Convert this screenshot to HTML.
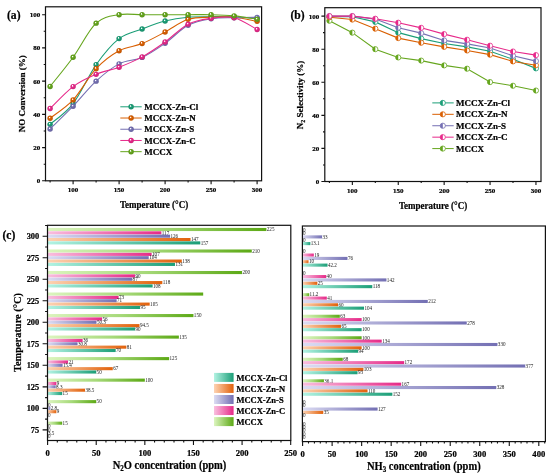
<!DOCTYPE html>
<html><head><meta charset="utf-8"><title>Figure</title>
<style>html,body{margin:0;padding:0;background:#fff;}body{width:550px;height:475px;overflow:hidden;font-family:"Liberation Serif",serif;}svg{display:block;will-change:transform;}</style>
</head><body>
<svg width="550" height="475" viewBox="0 0 550 475"><defs><radialGradient id="sph0" cx="0.5" cy="0.5" r="0.5" fx="0.36" fy="0.33"><stop offset="0" stop-color="#fff"/><stop offset="0.12" stop-color="#fff" stop-opacity="0.9"/><stop offset="0.4" stop-color="#1b9e77"/><stop offset="1" stop-color="#178b68"/></radialGradient><radialGradient id="sph1" cx="0.5" cy="0.5" r="0.5" fx="0.36" fy="0.33"><stop offset="0" stop-color="#fff"/><stop offset="0.12" stop-color="#fff" stop-opacity="0.9"/><stop offset="0.4" stop-color="#d95f02"/><stop offset="1" stop-color="#be5301"/></radialGradient><radialGradient id="sph2" cx="0.5" cy="0.5" r="0.5" fx="0.36" fy="0.33"><stop offset="0" stop-color="#fff"/><stop offset="0.12" stop-color="#fff" stop-opacity="0.9"/><stop offset="0.4" stop-color="#7570b3"/><stop offset="1" stop-color="#66629d"/></radialGradient><radialGradient id="sph3" cx="0.5" cy="0.5" r="0.5" fx="0.36" fy="0.33"><stop offset="0" stop-color="#fff"/><stop offset="0.12" stop-color="#fff" stop-opacity="0.9"/><stop offset="0.4" stop-color="#e7298a"/><stop offset="1" stop-color="#cb2479"/></radialGradient><radialGradient id="sph4" cx="0.5" cy="0.5" r="0.5" fx="0.36" fy="0.33"><stop offset="0" stop-color="#fff"/><stop offset="0.12" stop-color="#fff" stop-opacity="0.9"/><stop offset="0.4" stop-color="#66a61e"/><stop offset="1" stop-color="#59921a"/></radialGradient><linearGradient id="grg" x1="0" x2="1" y1="0" y2="0"><stop offset="0" stop-color="#dcf5bf"/><stop offset="0.5" stop-color="#a6d979"/><stop offset="1" stop-color="#5ca915"/></linearGradient><linearGradient id="lgg" x1="0" x2="1" y1="0" y2="0"><stop offset="0" stop-color="#dcf5bf"/><stop offset="1" stop-color="#5ca915"/></linearGradient><linearGradient id="grp" x1="0" x2="1" y1="0" y2="0"><stop offset="0" stop-color="#f9bfdf"/><stop offset="1" stop-color="#e62a88"/></linearGradient><linearGradient id="lgp" x1="0" x2="1" y1="0" y2="0"><stop offset="0" stop-color="#f9bfdf"/><stop offset="1" stop-color="#e62a88"/></linearGradient><linearGradient id="grs" x1="0" x2="1" y1="0" y2="0"><stop offset="0" stop-color="#dcdcf3"/><stop offset="1" stop-color="#736fb3"/></linearGradient><linearGradient id="lgs" x1="0" x2="1" y1="0" y2="0"><stop offset="0" stop-color="#dcdcf3"/><stop offset="1" stop-color="#736fb3"/></linearGradient><linearGradient id="gro" x1="0" x2="1" y1="0" y2="0"><stop offset="0" stop-color="#fdd3b3"/><stop offset="1" stop-color="#e2620c"/></linearGradient><linearGradient id="lgo" x1="0" x2="1" y1="0" y2="0"><stop offset="0" stop-color="#fdd3b3"/><stop offset="1" stop-color="#e2620c"/></linearGradient><linearGradient id="grt" x1="0" x2="1" y1="0" y2="0"><stop offset="0" stop-color="#b3f3e3"/><stop offset="1" stop-color="#1b9e77"/></linearGradient><linearGradient id="lgt" x1="0" x2="1" y1="0" y2="0"><stop offset="0" stop-color="#b3f3e3"/><stop offset="1" stop-color="#1b9e77"/></linearGradient></defs><path d="M50.1,124.33 C53.93,120.87 65.43,113.5 73.1,103.56 C80.77,93.63 88.43,75.52 96.1,64.7 C103.77,53.87 111.43,44.57 119.1,38.62 C126.77,32.67 134.43,31.92 142.1,28.98 C149.77,26.05 157.43,22.98 165.1,21.01 C172.77,19.05 180.43,17.91 188.1,17.19 C195.77,16.47 203.43,16.78 211.1,16.69 C218.77,16.61 226.43,16.42 234.1,16.69 C241.77,16.97 253.27,18.08 257.1,18.35" fill="none" stroke="#1b9e77" stroke-width="1.1"/>
<circle cx="50.1" cy="124.33" r="2.7" fill="url(#sph0)"/>
<circle cx="73.1" cy="103.56" r="2.7" fill="url(#sph0)"/>
<circle cx="96.1" cy="64.7" r="2.7" fill="url(#sph0)"/>
<circle cx="119.1" cy="38.62" r="2.7" fill="url(#sph0)"/>
<circle cx="142.1" cy="28.98" r="2.7" fill="url(#sph0)"/>
<circle cx="165.1" cy="21.01" r="2.7" fill="url(#sph0)"/>
<circle cx="188.1" cy="17.19" r="2.7" fill="url(#sph0)"/>
<circle cx="211.1" cy="16.69" r="2.7" fill="url(#sph0)"/>
<circle cx="234.1" cy="16.69" r="2.7" fill="url(#sph0)"/>
<circle cx="257.1" cy="18.35" r="2.7" fill="url(#sph0)"/>
<path d="M50.1,118.18 C53.93,115.14 65.43,108.16 73.1,99.91 C80.77,91.66 88.43,76.88 96.1,68.68 C103.77,60.49 111.43,54.92 119.1,50.74 C126.77,46.56 134.43,46.73 142.1,43.6 C149.77,40.47 157.43,36.02 165.1,31.97 C172.77,27.93 180.43,21.81 188.1,19.35 C195.77,16.89 203.43,17.55 211.1,17.19 C218.77,16.83 226.43,16.5 234.1,17.19 C241.77,17.88 253.27,20.65 257.1,21.34" fill="none" stroke="#d95f02" stroke-width="1.1"/>
<circle cx="50.1" cy="118.18" r="2.7" fill="url(#sph1)"/>
<circle cx="73.1" cy="99.91" r="2.7" fill="url(#sph1)"/>
<circle cx="96.1" cy="68.68" r="2.7" fill="url(#sph1)"/>
<circle cx="119.1" cy="50.74" r="2.7" fill="url(#sph1)"/>
<circle cx="142.1" cy="43.6" r="2.7" fill="url(#sph1)"/>
<circle cx="165.1" cy="31.97" r="2.7" fill="url(#sph1)"/>
<circle cx="188.1" cy="19.35" r="2.7" fill="url(#sph1)"/>
<circle cx="211.1" cy="17.19" r="2.7" fill="url(#sph1)"/>
<circle cx="234.1" cy="17.19" r="2.7" fill="url(#sph1)"/>
<circle cx="257.1" cy="21.34" r="2.7" fill="url(#sph1)"/>
<path d="M50.1,128.98 C53.93,125.18 65.43,114.19 73.1,106.22 C80.77,98.25 88.43,88.2 96.1,81.14 C103.77,74.08 111.43,67.82 119.1,63.87 C126.77,59.91 134.43,60.82 142.1,57.39 C149.77,53.95 157.43,48.61 165.1,43.27 C172.77,37.93 180.43,29.4 188.1,25.33 C195.77,21.26 203.43,20.13 211.1,18.85 C218.77,17.58 226.43,17.94 234.1,17.69 C241.77,17.44 253.27,17.41 257.1,17.36" fill="none" stroke="#7570b3" stroke-width="1.1"/>
<circle cx="50.1" cy="128.98" r="2.7" fill="url(#sph2)"/>
<circle cx="73.1" cy="106.22" r="2.7" fill="url(#sph2)"/>
<circle cx="96.1" cy="81.14" r="2.7" fill="url(#sph2)"/>
<circle cx="119.1" cy="63.87" r="2.7" fill="url(#sph2)"/>
<circle cx="142.1" cy="57.39" r="2.7" fill="url(#sph2)"/>
<circle cx="165.1" cy="43.27" r="2.7" fill="url(#sph2)"/>
<circle cx="188.1" cy="25.33" r="2.7" fill="url(#sph2)"/>
<circle cx="211.1" cy="18.85" r="2.7" fill="url(#sph2)"/>
<circle cx="234.1" cy="17.69" r="2.7" fill="url(#sph2)"/>
<circle cx="257.1" cy="17.36" r="2.7" fill="url(#sph2)"/>
<path d="M50.1,108.55 C53.93,104.89 65.43,92.32 73.1,86.62 C80.77,80.92 88.43,77.57 96.1,74.33 C103.77,71.09 111.43,70.09 119.1,67.19 C126.77,64.28 134.43,61.1 142.1,56.89 C149.77,52.68 157.43,47.39 165.1,41.94 C172.77,36.49 180.43,28.1 188.1,24.17 C195.77,20.24 203.43,19.43 211.1,18.35 C218.77,17.27 226.43,15.84 234.1,17.69 C241.77,19.54 253.27,27.52 257.1,29.48" fill="none" stroke="#e7298a" stroke-width="1.1"/>
<circle cx="50.1" cy="108.55" r="2.7" fill="url(#sph3)"/>
<circle cx="73.1" cy="86.62" r="2.7" fill="url(#sph3)"/>
<circle cx="96.1" cy="74.33" r="2.7" fill="url(#sph3)"/>
<circle cx="119.1" cy="67.19" r="2.7" fill="url(#sph3)"/>
<circle cx="142.1" cy="56.89" r="2.7" fill="url(#sph3)"/>
<circle cx="165.1" cy="41.94" r="2.7" fill="url(#sph3)"/>
<circle cx="188.1" cy="24.17" r="2.7" fill="url(#sph3)"/>
<circle cx="211.1" cy="18.35" r="2.7" fill="url(#sph3)"/>
<circle cx="234.1" cy="17.69" r="2.7" fill="url(#sph3)"/>
<circle cx="257.1" cy="29.48" r="2.7" fill="url(#sph3)"/>
<path d="M50.1,86.46 C53.93,81.58 65.43,67.77 73.1,57.22 C80.77,46.67 88.43,30.26 96.1,23.17 C103.77,16.08 111.43,16.11 119.1,14.7 C126.77,13.29 134.43,14.7 142.1,14.7 C149.77,14.7 157.43,14.7 165.1,14.7 C172.77,14.7 180.43,14.7 188.1,14.7 C195.77,14.7 203.43,14.51 211.1,14.7 C218.77,14.89 226.43,15.12 234.1,15.86 C241.77,16.61 253.27,18.63 257.1,19.18" fill="none" stroke="#66a61e" stroke-width="1.1"/>
<circle cx="50.1" cy="86.46" r="2.7" fill="url(#sph4)"/>
<circle cx="73.1" cy="57.22" r="2.7" fill="url(#sph4)"/>
<circle cx="96.1" cy="23.17" r="2.7" fill="url(#sph4)"/>
<circle cx="119.1" cy="14.7" r="2.7" fill="url(#sph4)"/>
<circle cx="142.1" cy="14.7" r="2.7" fill="url(#sph4)"/>
<circle cx="165.1" cy="14.7" r="2.7" fill="url(#sph4)"/>
<circle cx="188.1" cy="14.7" r="2.7" fill="url(#sph4)"/>
<circle cx="211.1" cy="14.7" r="2.7" fill="url(#sph4)"/>
<circle cx="234.1" cy="15.86" r="2.7" fill="url(#sph4)"/>
<circle cx="257.1" cy="19.18" r="2.7" fill="url(#sph4)"/>
<rect x="45.5" y="6.8" width="216.1" height="174" fill="none" stroke="#111" stroke-width="1.2"/>
<path d="M45.5,180.8H42.1M45.5,164.19H43.7M45.5,147.58H42.1M45.5,130.97H43.7M45.5,114.36H42.1M45.5,97.75H43.7M45.5,81.14H42.1M45.5,64.53H43.7M45.5,47.92H42.1M45.5,31.31H43.7M45.5,14.7H42.1M50.1,180.8V182.4M73.1,180.8V184.2M96.1,180.8V182.4M119.1,180.8V184.2M142.1,180.8V182.4M165.1,180.8V184.2M188.1,180.8V182.4M211.1,180.8V184.2M234.1,180.8V182.4M257.1,180.8V184.2" stroke="#111" stroke-width="1.1" fill="none"/>
<text x="40.3" y="183.3" font-size="7" text-anchor="end" font-family="Liberation Serif" font-weight="bold" stroke="#000" stroke-width="0.22" paint-order="stroke">0</text>
<text x="40.3" y="150.08" font-size="7" text-anchor="end" font-family="Liberation Serif" font-weight="bold" stroke="#000" stroke-width="0.22" paint-order="stroke">20</text>
<text x="40.3" y="116.86" font-size="7" text-anchor="end" font-family="Liberation Serif" font-weight="bold" stroke="#000" stroke-width="0.22" paint-order="stroke">40</text>
<text x="40.3" y="83.64" font-size="7" text-anchor="end" font-family="Liberation Serif" font-weight="bold" stroke="#000" stroke-width="0.22" paint-order="stroke">60</text>
<text x="40.3" y="50.42" font-size="7" text-anchor="end" font-family="Liberation Serif" font-weight="bold" stroke="#000" stroke-width="0.22" paint-order="stroke">80</text>
<text x="40.3" y="17.2" font-size="7" text-anchor="end" font-family="Liberation Serif" font-weight="bold" stroke="#000" stroke-width="0.22" paint-order="stroke">100</text>
<text x="73.1" y="192.3" font-size="7" text-anchor="middle" font-family="Liberation Serif" font-weight="bold" stroke="#000" stroke-width="0.22" paint-order="stroke">100</text>
<text x="119.1" y="192.3" font-size="7" text-anchor="middle" font-family="Liberation Serif" font-weight="bold" stroke="#000" stroke-width="0.22" paint-order="stroke">150</text>
<text x="165.1" y="192.3" font-size="7" text-anchor="middle" font-family="Liberation Serif" font-weight="bold" stroke="#000" stroke-width="0.22" paint-order="stroke">200</text>
<text x="211.1" y="192.3" font-size="7" text-anchor="middle" font-family="Liberation Serif" font-weight="bold" stroke="#000" stroke-width="0.22" paint-order="stroke">250</text>
<text x="257.1" y="192.3" font-size="7" text-anchor="middle" font-family="Liberation Serif" font-weight="bold" stroke="#000" stroke-width="0.22" paint-order="stroke">300</text>
<text transform="translate(154,208.4) scale(0.9,1)" font-size="10" text-anchor="middle" font-family="Liberation Serif" font-weight="bold" stroke="#000" stroke-width="0.22" paint-order="stroke">Temperature (°C)</text>
<text transform="translate(25.3,93.7) rotate(-90)" font-size="9" text-anchor="middle" font-family="Liberation Serif" font-weight="bold" stroke="#000" stroke-width="0.22" paint-order="stroke">NO Conversion (%)</text>
<text x="7.0" y="18.6" font-size="11.6" font-family="Liberation Serif" font-weight="bold" stroke="#000" stroke-width="0.22" paint-order="stroke">(a)</text>
<path d="M120.3,106.8H141.7" stroke="#1b9e77" stroke-width="1"/>
<circle cx="131.1" cy="106.8" r="2.7" fill="url(#sph0)"/>
<text x="144.2" y="109.9" font-size="9" font-family="Liberation Serif" font-weight="bold" stroke="#000" stroke-width="0.22" paint-order="stroke">MCCX-Zn-Cl</text>
<path d="M120.3,118.02H141.7" stroke="#d95f02" stroke-width="1"/>
<circle cx="131.1" cy="118.02" r="2.7" fill="url(#sph1)"/>
<text x="144.2" y="121.12" font-size="9" font-family="Liberation Serif" font-weight="bold" stroke="#000" stroke-width="0.22" paint-order="stroke">MCCX-Zn-N</text>
<path d="M120.3,129.24H141.7" stroke="#7570b3" stroke-width="1"/>
<circle cx="131.1" cy="129.24" r="2.7" fill="url(#sph2)"/>
<text x="144.2" y="132.34" font-size="9" font-family="Liberation Serif" font-weight="bold" stroke="#000" stroke-width="0.22" paint-order="stroke">MCCX-Zn-S</text>
<path d="M120.3,140.46H141.7" stroke="#e7298a" stroke-width="1"/>
<circle cx="131.1" cy="140.46" r="2.7" fill="url(#sph3)"/>
<text x="144.2" y="143.56" font-size="9" font-family="Liberation Serif" font-weight="bold" stroke="#000" stroke-width="0.22" paint-order="stroke">MCCX-Zn-C</text>
<path d="M120.3,151.68H141.7" stroke="#66a61e" stroke-width="1"/>
<circle cx="131.1" cy="151.68" r="2.7" fill="url(#sph4)"/>
<text x="144.2" y="154.78" font-size="9" font-family="Liberation Serif" font-weight="bold" stroke="#000" stroke-width="0.22" paint-order="stroke">MCCX</text>
<polyline points="329.4,20.73 352.35,32.64 375.3,49.18 398.25,57.45 421.2,60.59 444.15,65.39 467.1,68.7 490.05,82.09 513,85.73 535.95,90.53" fill="none" stroke="#66a61e" stroke-width="1.1"/>
<polyline points="329.4,16.76 352.35,16.76 375.3,21.89 398.25,32.64 421.2,38.59 444.15,43.56 467.1,46.86 490.05,51.16 513,59.27 535.95,68.37" fill="none" stroke="#1b9e77" stroke-width="1.1"/>
<polyline points="329.4,17.26 352.35,19.57 375.3,28.67 398.25,38.1 421.2,42.73 444.15,46.86 467.1,50.5 490.05,54.64 513,61.42 535.95,65.22" fill="none" stroke="#d95f02" stroke-width="1.1"/>
<polyline points="329.4,16.1 352.35,16.1 375.3,19.08 398.25,27.68 421.2,33.14 444.15,40.41 467.1,43.89 490.05,48.02 513,55.8 535.95,61.09" fill="none" stroke="#7570b3" stroke-width="1.1"/>
<polyline points="329.4,16.1 352.35,16.1 375.3,18.75 398.25,22.72 421.2,27.84 444.15,34.13 467.1,39.75 490.05,45.71 513,51.5 535.95,55.13" fill="none" stroke="#e7298a" stroke-width="1.1"/>
<circle cx="329.4" cy="20.73" r="2.6" fill="#fff" stroke="#66a61e" stroke-width="0.8"/><path d="M329.4,18.13A2.6,2.6 0 0 0 329.4,23.33Z" fill="#66a61e"/>
<circle cx="352.35" cy="32.64" r="2.6" fill="#fff" stroke="#66a61e" stroke-width="0.8"/><path d="M352.35,30.04A2.6,2.6 0 0 0 352.35,35.24Z" fill="#66a61e"/>
<circle cx="375.3" cy="49.18" r="2.6" fill="#fff" stroke="#66a61e" stroke-width="0.8"/><path d="M375.3,46.58A2.6,2.6 0 0 0 375.3,51.78Z" fill="#66a61e"/>
<circle cx="398.25" cy="57.45" r="2.6" fill="#fff" stroke="#66a61e" stroke-width="0.8"/><path d="M398.25,54.85A2.6,2.6 0 0 0 398.25,60.05Z" fill="#66a61e"/>
<circle cx="421.2" cy="60.59" r="2.6" fill="#fff" stroke="#66a61e" stroke-width="0.8"/><path d="M421.2,57.99A2.6,2.6 0 0 0 421.2,63.19Z" fill="#66a61e"/>
<circle cx="444.15" cy="65.39" r="2.6" fill="#fff" stroke="#66a61e" stroke-width="0.8"/><path d="M444.15,62.79A2.6,2.6 0 0 0 444.15,67.99Z" fill="#66a61e"/>
<circle cx="467.1" cy="68.7" r="2.6" fill="#fff" stroke="#66a61e" stroke-width="0.8"/><path d="M467.1,66.1A2.6,2.6 0 0 0 467.1,71.3Z" fill="#66a61e"/>
<circle cx="490.05" cy="82.09" r="2.6" fill="#fff" stroke="#66a61e" stroke-width="0.8"/><path d="M490.05,79.49A2.6,2.6 0 0 0 490.05,84.69Z" fill="#66a61e"/>
<circle cx="513" cy="85.73" r="2.6" fill="#fff" stroke="#66a61e" stroke-width="0.8"/><path d="M513,83.13A2.6,2.6 0 0 0 513,88.33Z" fill="#66a61e"/>
<circle cx="535.95" cy="90.53" r="2.6" fill="#fff" stroke="#66a61e" stroke-width="0.8"/><path d="M535.95,87.93A2.6,2.6 0 0 0 535.95,93.13Z" fill="#66a61e"/>
<circle cx="329.4" cy="16.76" r="2.6" fill="#fff" stroke="#1b9e77" stroke-width="0.8"/><path d="M329.4,14.16A2.6,2.6 0 0 0 329.4,19.36Z" fill="#1b9e77"/>
<circle cx="352.35" cy="16.76" r="2.6" fill="#fff" stroke="#1b9e77" stroke-width="0.8"/><path d="M352.35,14.16A2.6,2.6 0 0 0 352.35,19.36Z" fill="#1b9e77"/>
<circle cx="375.3" cy="21.89" r="2.6" fill="#fff" stroke="#1b9e77" stroke-width="0.8"/><path d="M375.3,19.29A2.6,2.6 0 0 0 375.3,24.49Z" fill="#1b9e77"/>
<circle cx="398.25" cy="32.64" r="2.6" fill="#fff" stroke="#1b9e77" stroke-width="0.8"/><path d="M398.25,30.04A2.6,2.6 0 0 0 398.25,35.24Z" fill="#1b9e77"/>
<circle cx="421.2" cy="38.59" r="2.6" fill="#fff" stroke="#1b9e77" stroke-width="0.8"/><path d="M421.2,35.99A2.6,2.6 0 0 0 421.2,41.19Z" fill="#1b9e77"/>
<circle cx="444.15" cy="43.56" r="2.6" fill="#fff" stroke="#1b9e77" stroke-width="0.8"/><path d="M444.15,40.96A2.6,2.6 0 0 0 444.15,46.16Z" fill="#1b9e77"/>
<circle cx="467.1" cy="46.86" r="2.6" fill="#fff" stroke="#1b9e77" stroke-width="0.8"/><path d="M467.1,44.26A2.6,2.6 0 0 0 467.1,49.46Z" fill="#1b9e77"/>
<circle cx="490.05" cy="51.16" r="2.6" fill="#fff" stroke="#1b9e77" stroke-width="0.8"/><path d="M490.05,48.56A2.6,2.6 0 0 0 490.05,53.76Z" fill="#1b9e77"/>
<circle cx="513" cy="59.27" r="2.6" fill="#fff" stroke="#1b9e77" stroke-width="0.8"/><path d="M513,56.67A2.6,2.6 0 0 0 513,61.87Z" fill="#1b9e77"/>
<circle cx="535.95" cy="68.37" r="2.6" fill="#fff" stroke="#1b9e77" stroke-width="0.8"/><path d="M535.95,65.77A2.6,2.6 0 0 0 535.95,70.97Z" fill="#1b9e77"/>
<circle cx="329.4" cy="17.26" r="2.6" fill="#fff" stroke="#d95f02" stroke-width="0.8"/><path d="M329.4,14.66A2.6,2.6 0 0 0 329.4,19.86Z" fill="#d95f02"/>
<circle cx="352.35" cy="19.57" r="2.6" fill="#fff" stroke="#d95f02" stroke-width="0.8"/><path d="M352.35,16.97A2.6,2.6 0 0 0 352.35,22.17Z" fill="#d95f02"/>
<circle cx="375.3" cy="28.67" r="2.6" fill="#fff" stroke="#d95f02" stroke-width="0.8"/><path d="M375.3,26.07A2.6,2.6 0 0 0 375.3,31.27Z" fill="#d95f02"/>
<circle cx="398.25" cy="38.1" r="2.6" fill="#fff" stroke="#d95f02" stroke-width="0.8"/><path d="M398.25,35.5A2.6,2.6 0 0 0 398.25,40.7Z" fill="#d95f02"/>
<circle cx="421.2" cy="42.73" r="2.6" fill="#fff" stroke="#d95f02" stroke-width="0.8"/><path d="M421.2,40.13A2.6,2.6 0 0 0 421.2,45.33Z" fill="#d95f02"/>
<circle cx="444.15" cy="46.86" r="2.6" fill="#fff" stroke="#d95f02" stroke-width="0.8"/><path d="M444.15,44.26A2.6,2.6 0 0 0 444.15,49.46Z" fill="#d95f02"/>
<circle cx="467.1" cy="50.5" r="2.6" fill="#fff" stroke="#d95f02" stroke-width="0.8"/><path d="M467.1,47.9A2.6,2.6 0 0 0 467.1,53.1Z" fill="#d95f02"/>
<circle cx="490.05" cy="54.64" r="2.6" fill="#fff" stroke="#d95f02" stroke-width="0.8"/><path d="M490.05,52.04A2.6,2.6 0 0 0 490.05,57.24Z" fill="#d95f02"/>
<circle cx="513" cy="61.42" r="2.6" fill="#fff" stroke="#d95f02" stroke-width="0.8"/><path d="M513,58.82A2.6,2.6 0 0 0 513,64.02Z" fill="#d95f02"/>
<circle cx="535.95" cy="65.22" r="2.6" fill="#fff" stroke="#d95f02" stroke-width="0.8"/><path d="M535.95,62.62A2.6,2.6 0 0 0 535.95,67.82Z" fill="#d95f02"/>
<circle cx="329.4" cy="16.1" r="2.6" fill="#fff" stroke="#7570b3" stroke-width="0.8"/><path d="M329.4,13.5A2.6,2.6 0 0 0 329.4,18.7Z" fill="#7570b3"/>
<circle cx="352.35" cy="16.1" r="2.6" fill="#fff" stroke="#7570b3" stroke-width="0.8"/><path d="M352.35,13.5A2.6,2.6 0 0 0 352.35,18.7Z" fill="#7570b3"/>
<circle cx="375.3" cy="19.08" r="2.6" fill="#fff" stroke="#7570b3" stroke-width="0.8"/><path d="M375.3,16.48A2.6,2.6 0 0 0 375.3,21.68Z" fill="#7570b3"/>
<circle cx="398.25" cy="27.68" r="2.6" fill="#fff" stroke="#7570b3" stroke-width="0.8"/><path d="M398.25,25.08A2.6,2.6 0 0 0 398.25,30.28Z" fill="#7570b3"/>
<circle cx="421.2" cy="33.14" r="2.6" fill="#fff" stroke="#7570b3" stroke-width="0.8"/><path d="M421.2,30.54A2.6,2.6 0 0 0 421.2,35.74Z" fill="#7570b3"/>
<circle cx="444.15" cy="40.41" r="2.6" fill="#fff" stroke="#7570b3" stroke-width="0.8"/><path d="M444.15,37.81A2.6,2.6 0 0 0 444.15,43.01Z" fill="#7570b3"/>
<circle cx="467.1" cy="43.89" r="2.6" fill="#fff" stroke="#7570b3" stroke-width="0.8"/><path d="M467.1,41.29A2.6,2.6 0 0 0 467.1,46.49Z" fill="#7570b3"/>
<circle cx="490.05" cy="48.02" r="2.6" fill="#fff" stroke="#7570b3" stroke-width="0.8"/><path d="M490.05,45.42A2.6,2.6 0 0 0 490.05,50.62Z" fill="#7570b3"/>
<circle cx="513" cy="55.8" r="2.6" fill="#fff" stroke="#7570b3" stroke-width="0.8"/><path d="M513,53.2A2.6,2.6 0 0 0 513,58.4Z" fill="#7570b3"/>
<circle cx="535.95" cy="61.09" r="2.6" fill="#fff" stroke="#7570b3" stroke-width="0.8"/><path d="M535.95,58.49A2.6,2.6 0 0 0 535.95,63.69Z" fill="#7570b3"/>
<circle cx="329.4" cy="16.1" r="2.6" fill="#fff" stroke="#e7298a" stroke-width="0.8"/><path d="M329.4,13.5A2.6,2.6 0 0 0 329.4,18.7Z" fill="#e7298a"/>
<circle cx="352.35" cy="16.1" r="2.6" fill="#fff" stroke="#e7298a" stroke-width="0.8"/><path d="M352.35,13.5A2.6,2.6 0 0 0 352.35,18.7Z" fill="#e7298a"/>
<circle cx="375.3" cy="18.75" r="2.6" fill="#fff" stroke="#e7298a" stroke-width="0.8"/><path d="M375.3,16.15A2.6,2.6 0 0 0 375.3,21.35Z" fill="#e7298a"/>
<circle cx="398.25" cy="22.72" r="2.6" fill="#fff" stroke="#e7298a" stroke-width="0.8"/><path d="M398.25,20.12A2.6,2.6 0 0 0 398.25,25.32Z" fill="#e7298a"/>
<circle cx="421.2" cy="27.84" r="2.6" fill="#fff" stroke="#e7298a" stroke-width="0.8"/><path d="M421.2,25.24A2.6,2.6 0 0 0 421.2,30.44Z" fill="#e7298a"/>
<circle cx="444.15" cy="34.13" r="2.6" fill="#fff" stroke="#e7298a" stroke-width="0.8"/><path d="M444.15,31.53A2.6,2.6 0 0 0 444.15,36.73Z" fill="#e7298a"/>
<circle cx="467.1" cy="39.75" r="2.6" fill="#fff" stroke="#e7298a" stroke-width="0.8"/><path d="M467.1,37.15A2.6,2.6 0 0 0 467.1,42.35Z" fill="#e7298a"/>
<circle cx="490.05" cy="45.71" r="2.6" fill="#fff" stroke="#e7298a" stroke-width="0.8"/><path d="M490.05,43.11A2.6,2.6 0 0 0 490.05,48.31Z" fill="#e7298a"/>
<circle cx="513" cy="51.5" r="2.6" fill="#fff" stroke="#e7298a" stroke-width="0.8"/><path d="M513,48.9A2.6,2.6 0 0 0 513,54.1Z" fill="#e7298a"/>
<circle cx="535.95" cy="55.13" r="2.6" fill="#fff" stroke="#e7298a" stroke-width="0.8"/><path d="M535.95,52.53A2.6,2.6 0 0 0 535.95,57.73Z" fill="#e7298a"/>
<rect x="324.8" y="7.7" width="216.2" height="173.8" fill="none" stroke="#111" stroke-width="1.2"/>
<path d="M324.8,181.5H321.4M324.8,164.96H323M324.8,148.42H321.4M324.8,131.88H323M324.8,115.34H321.4M324.8,98.8H323M324.8,82.26H321.4M324.8,65.72H323M324.8,49.18H321.4M324.8,32.64H323M324.8,16.1H321.4M329.4,181.5V183.1M352.35,181.5V185M375.3,181.5V183.1M398.25,181.5V185M421.2,181.5V183.1M444.15,181.5V185M467.1,181.5V183.1M490.05,181.5V185M513,181.5V183.1M535.95,181.5V185" stroke="#111" stroke-width="1.1" fill="none"/>
<text x="319.3" y="184" font-size="7" text-anchor="end" font-family="Liberation Serif" font-weight="bold" stroke="#000" stroke-width="0.22" paint-order="stroke">0</text>
<text x="319.3" y="150.92" font-size="7" text-anchor="end" font-family="Liberation Serif" font-weight="bold" stroke="#000" stroke-width="0.22" paint-order="stroke">20</text>
<text x="319.3" y="117.84" font-size="7" text-anchor="end" font-family="Liberation Serif" font-weight="bold" stroke="#000" stroke-width="0.22" paint-order="stroke">40</text>
<text x="319.3" y="84.76" font-size="7" text-anchor="end" font-family="Liberation Serif" font-weight="bold" stroke="#000" stroke-width="0.22" paint-order="stroke">60</text>
<text x="319.3" y="51.68" font-size="7" text-anchor="end" font-family="Liberation Serif" font-weight="bold" stroke="#000" stroke-width="0.22" paint-order="stroke">80</text>
<text x="319.3" y="18.6" font-size="7" text-anchor="end" font-family="Liberation Serif" font-weight="bold" stroke="#000" stroke-width="0.22" paint-order="stroke">100</text>
<text x="352.35" y="192.9" font-size="7" text-anchor="middle" font-family="Liberation Serif" font-weight="bold" stroke="#000" stroke-width="0.22" paint-order="stroke">100</text>
<text x="398.25" y="192.9" font-size="7" text-anchor="middle" font-family="Liberation Serif" font-weight="bold" stroke="#000" stroke-width="0.22" paint-order="stroke">150</text>
<text x="444.15" y="192.9" font-size="7" text-anchor="middle" font-family="Liberation Serif" font-weight="bold" stroke="#000" stroke-width="0.22" paint-order="stroke">200</text>
<text x="490.05" y="192.9" font-size="7" text-anchor="middle" font-family="Liberation Serif" font-weight="bold" stroke="#000" stroke-width="0.22" paint-order="stroke">250</text>
<text x="535.95" y="192.9" font-size="7" text-anchor="middle" font-family="Liberation Serif" font-weight="bold" stroke="#000" stroke-width="0.22" paint-order="stroke">300</text>
<text transform="translate(433,209.4) scale(0.9,1)" font-size="10" text-anchor="middle" font-family="Liberation Serif" font-weight="bold" stroke="#000" stroke-width="0.22" paint-order="stroke">Temperature (°C)</text>
<text transform="translate(302.6,95) rotate(-90)" font-size="9" text-anchor="middle" font-family="Liberation Serif" font-weight="bold" stroke="#000" stroke-width="0.22" paint-order="stroke">N<tspan font-size="6" dy="2">2</tspan><tspan dy="-2"> Selectivity (%)</tspan></text>
<text x="290.4" y="18.7" font-size="11.6" font-family="Liberation Serif" font-weight="bold" stroke="#000" stroke-width="0.22" paint-order="stroke">(b)</text>
<path d="M432.3,102.9H453.7" stroke="#1b9e77" stroke-width="1"/>
<circle cx="442.8" cy="102.9" r="2.6" fill="#fff" stroke="#1b9e77" stroke-width="0.8"/><path d="M442.8,100.3A2.6,2.6 0 0 0 442.8,105.5Z" fill="#1b9e77"/>
<text x="455.9" y="106" font-size="9" font-family="Liberation Serif" font-weight="bold" stroke="#000" stroke-width="0.22" paint-order="stroke">MCCX-Zn-Cl</text>
<path d="M432.3,114.32H453.7" stroke="#d95f02" stroke-width="1"/>
<circle cx="442.8" cy="114.32" r="2.6" fill="#fff" stroke="#d95f02" stroke-width="0.8"/><path d="M442.8,111.72A2.6,2.6 0 0 0 442.8,116.92Z" fill="#d95f02"/>
<text x="455.9" y="117.42" font-size="9" font-family="Liberation Serif" font-weight="bold" stroke="#000" stroke-width="0.22" paint-order="stroke">MCCX-Zn-N</text>
<path d="M432.3,125.74H453.7" stroke="#7570b3" stroke-width="1"/>
<circle cx="442.8" cy="125.74" r="2.6" fill="#fff" stroke="#7570b3" stroke-width="0.8"/><path d="M442.8,123.14A2.6,2.6 0 0 0 442.8,128.34Z" fill="#7570b3"/>
<text x="455.9" y="128.84" font-size="9" font-family="Liberation Serif" font-weight="bold" stroke="#000" stroke-width="0.22" paint-order="stroke">MCCX-Zn-S</text>
<path d="M432.3,137.16H453.7" stroke="#e7298a" stroke-width="1"/>
<circle cx="442.8" cy="137.16" r="2.6" fill="#fff" stroke="#e7298a" stroke-width="0.8"/><path d="M442.8,134.56A2.6,2.6 0 0 0 442.8,139.76Z" fill="#e7298a"/>
<text x="455.9" y="140.26" font-size="9" font-family="Liberation Serif" font-weight="bold" stroke="#000" stroke-width="0.22" paint-order="stroke">MCCX-Zn-C</text>
<path d="M432.3,148.58H453.7" stroke="#66a61e" stroke-width="1"/>
<circle cx="442.8" cy="148.58" r="2.6" fill="#fff" stroke="#66a61e" stroke-width="0.8"/><path d="M442.8,145.98A2.6,2.6 0 0 0 442.8,151.18Z" fill="#66a61e"/>
<text x="455.9" y="151.68" font-size="9" font-family="Liberation Serif" font-weight="bold" stroke="#000" stroke-width="0.22" paint-order="stroke">MCCX</text>
<rect x="47.6" y="227.95" width="218.79" height="3.1" fill="url(#grg)"/>
<text x="266.79" y="231.2" font-size="5.1" font-family="Liberation Serif" fill="#222">225</text>
<rect x="47.6" y="231.3" width="113.77" height="3.1" fill="url(#grp)"/>
<text x="161.77" y="234.55" font-size="5.1" font-family="Liberation Serif" fill="#222">117</text>
<rect x="47.6" y="234.65" width="122.52" height="3.1" fill="url(#grs)"/>
<text x="170.52" y="237.9" font-size="5.1" font-family="Liberation Serif" fill="#222">126</text>
<rect x="47.6" y="238" width="142.94" height="3.1" fill="url(#gro)"/>
<text x="190.94" y="241.25" font-size="5.1" font-family="Liberation Serif" fill="#222">147</text>
<rect x="47.6" y="241.35" width="152.67" height="3.1" fill="url(#grt)"/>
<text x="200.67" y="244.6" font-size="5.1" font-family="Liberation Serif" fill="#222">157</text>
<rect x="47.6" y="249.47" width="204.2" height="3.1" fill="url(#grg)"/>
<text x="252.2" y="252.72" font-size="5.1" font-family="Liberation Serif" fill="#222">210</text>
<rect x="47.6" y="252.82" width="104.05" height="3.1" fill="url(#grp)"/>
<text x="152.05" y="256.07" font-size="5.1" font-family="Liberation Serif" fill="#222">107</text>
<rect x="47.6" y="256.17" width="101.13" height="3.1" fill="url(#grs)"/>
<text x="149.13" y="259.42" font-size="5.1" font-family="Liberation Serif" fill="#222">104</text>
<rect x="47.6" y="259.52" width="134.19" height="3.1" fill="url(#gro)"/>
<text x="182.19" y="262.77" font-size="5.1" font-family="Liberation Serif" fill="#222">138</text>
<rect x="47.6" y="262.87" width="127.38" height="3.1" fill="url(#grt)"/>
<text x="175.38" y="266.12" font-size="5.1" font-family="Liberation Serif" fill="#222">131</text>
<rect x="47.6" y="270.99" width="194.48" height="3.1" fill="url(#grg)"/>
<text x="242.48" y="274.24" font-size="5.1" font-family="Liberation Serif" fill="#222">200</text>
<rect x="47.6" y="274.34" width="87.52" height="3.1" fill="url(#grp)"/>
<text x="135.52" y="277.59" font-size="5.1" font-family="Liberation Serif" fill="#222">90</text>
<rect x="47.6" y="277.69" width="84.6" height="3.1" fill="url(#grs)"/>
<text x="132.6" y="280.94" font-size="5.1" font-family="Liberation Serif" fill="#222">87</text>
<rect x="47.6" y="281.04" width="114.74" height="3.1" fill="url(#gro)"/>
<text x="162.74" y="284.29" font-size="5.1" font-family="Liberation Serif" fill="#222">118</text>
<rect x="47.6" y="284.39" width="105.02" height="3.1" fill="url(#grt)"/>
<text x="153.02" y="287.64" font-size="5.1" font-family="Liberation Serif" fill="#222">108</text>
<rect x="47.6" y="292.51" width="155.58" height="3.1" fill="url(#grg)"/>
<rect x="47.6" y="295.86" width="70.99" height="3.1" fill="url(#grp)"/>
<text x="118.99" y="299.11" font-size="5.1" font-family="Liberation Serif" fill="#222">73</text>
<rect x="47.6" y="299.21" width="69.04" height="3.1" fill="url(#grs)"/>
<text x="117.04" y="302.46" font-size="5.1" font-family="Liberation Serif" fill="#222">71</text>
<rect x="47.6" y="302.56" width="102.1" height="3.1" fill="url(#gro)"/>
<text x="150.1" y="305.81" font-size="5.1" font-family="Liberation Serif" fill="#222">105</text>
<rect x="47.6" y="305.91" width="92.38" height="3.1" fill="url(#grt)"/>
<text x="140.38" y="309.16" font-size="5.1" font-family="Liberation Serif" fill="#222">95</text>
<rect x="47.6" y="314.03" width="145.86" height="3.1" fill="url(#grg)"/>
<text x="193.86" y="317.28" font-size="5.1" font-family="Liberation Serif" fill="#222">150</text>
<rect x="47.6" y="317.38" width="54.45" height="3.1" fill="url(#grp)"/>
<text x="102.45" y="320.63" font-size="5.1" font-family="Liberation Serif" fill="#222">56</text>
<rect x="47.6" y="320.73" width="48.91" height="3.1" fill="url(#grs)"/>
<text x="96.91" y="323.98" font-size="5.1" font-family="Liberation Serif" fill="#222">50.3</text>
<rect x="47.6" y="324.08" width="91.89" height="3.1" fill="url(#gro)"/>
<text x="139.89" y="327.33" font-size="5.1" font-family="Liberation Serif" fill="#222">94.5</text>
<rect x="47.6" y="327.43" width="87.52" height="3.1" fill="url(#grt)"/>
<text x="135.52" y="330.68" font-size="5.1" font-family="Liberation Serif" fill="#222">90</text>
<rect x="47.6" y="335.55" width="131.27" height="3.1" fill="url(#grg)"/>
<text x="179.27" y="338.8" font-size="5.1" font-family="Liberation Serif" fill="#222">135</text>
<rect x="47.6" y="338.9" width="35.01" height="3.1" fill="url(#grp)"/>
<text x="83.01" y="342.15" font-size="5.1" font-family="Liberation Serif" fill="#222">36</text>
<rect x="47.6" y="342.25" width="29.95" height="3.1" fill="url(#grs)"/>
<text x="77.95" y="345.5" font-size="5.1" font-family="Liberation Serif" fill="#222">30.8</text>
<rect x="47.6" y="345.6" width="78.76" height="3.1" fill="url(#gro)"/>
<text x="126.76" y="348.85" font-size="5.1" font-family="Liberation Serif" fill="#222">81</text>
<rect x="47.6" y="348.95" width="68.07" height="3.1" fill="url(#grt)"/>
<text x="116.07" y="352.2" font-size="5.1" font-family="Liberation Serif" fill="#222">70</text>
<rect x="47.6" y="357.07" width="121.55" height="3.1" fill="url(#grg)"/>
<text x="169.55" y="360.32" font-size="5.1" font-family="Liberation Serif" fill="#222">125</text>
<rect x="47.6" y="360.42" width="20.42" height="3.1" fill="url(#grp)"/>
<text x="68.42" y="363.67" font-size="5.1" font-family="Liberation Serif" fill="#222">21</text>
<rect x="47.6" y="363.77" width="14.97" height="3.1" fill="url(#grs)"/>
<text x="62.97" y="367.02" font-size="5.1" font-family="Liberation Serif" fill="#222">15.4</text>
<rect x="47.6" y="367.12" width="65.15" height="3.1" fill="url(#gro)"/>
<text x="113.15" y="370.37" font-size="5.1" font-family="Liberation Serif" fill="#222">67</text>
<rect x="47.6" y="370.47" width="48.62" height="3.1" fill="url(#grt)"/>
<text x="96.62" y="373.72" font-size="5.1" font-family="Liberation Serif" fill="#222">50</text>
<rect x="47.6" y="378.59" width="97.24" height="3.1" fill="url(#grg)"/>
<text x="145.24" y="381.84" font-size="5.1" font-family="Liberation Serif" fill="#222">100</text>
<rect x="47.6" y="381.94" width="8.75" height="3.1" fill="url(#grp)"/>
<text x="56.75" y="385.19" font-size="5.1" font-family="Liberation Serif" fill="#222">9</text>
<rect x="47.6" y="385.29" width="8.07" height="3.1" fill="url(#grs)"/>
<text x="56.07" y="388.54" font-size="5.1" font-family="Liberation Serif" fill="#222">8.3</text>
<rect x="47.6" y="388.64" width="37.44" height="3.1" fill="url(#gro)"/>
<text x="85.44" y="391.89" font-size="5.1" font-family="Liberation Serif" fill="#222">38.5</text>
<rect x="47.6" y="391.99" width="14.59" height="3.1" fill="url(#grt)"/>
<text x="62.59" y="395.24" font-size="5.1" font-family="Liberation Serif" fill="#222">15</text>
<rect x="47.6" y="400.11" width="48.62" height="3.1" fill="url(#grg)"/>
<text x="96.62" y="403.36" font-size="5.1" font-family="Liberation Serif" fill="#222">50</text>
<text x="48" y="406.71" font-size="5.1" font-family="Liberation Serif" fill="#222">0</text>
<rect x="47.6" y="406.81" width="2.72" height="3.1" fill="url(#grs)"/>
<text x="50.72" y="410.06" font-size="5.1" font-family="Liberation Serif" fill="#222">2.8</text>
<rect x="47.6" y="410.16" width="8.75" height="3.1" fill="url(#gro)"/>
<text x="56.75" y="413.41" font-size="5.1" font-family="Liberation Serif" fill="#222">9</text>
<text x="48" y="416.76" font-size="5.1" font-family="Liberation Serif" fill="#222">0</text>
<rect x="47.6" y="421.63" width="14.59" height="3.1" fill="url(#grg)"/>
<text x="62.59" y="424.88" font-size="5.1" font-family="Liberation Serif" fill="#222">15</text>
<text x="48" y="428.23" font-size="5.1" font-family="Liberation Serif" fill="#222">0</text>
<text x="48" y="431.58" font-size="5.1" font-family="Liberation Serif" fill="#222">0</text>
<text x="48" y="434.93" font-size="5.1" font-family="Liberation Serif" fill="#222">3.5</text>
<text x="48" y="438.28" font-size="5.1" font-family="Liberation Serif" fill="#222">0</text>
<rect x="47.5" y="225.3" width="243.3" height="215.2" fill="none" stroke="#111" stroke-width="1.2"/>
<path d="M47.5,429.88H42.6M47.5,419.12H45.1M47.5,408.36H42.6M47.5,397.6H45.1M47.5,386.84H42.6M47.5,376.08H45.1M47.5,365.32H42.6M47.5,354.56H45.1M47.5,343.8H42.6M47.5,333.04H45.1M47.5,322.28H42.6M47.5,311.52H45.1M47.5,300.76H42.6M47.5,290H45.1M47.5,279.24H42.6M47.5,268.48H45.1M47.5,257.72H42.6M47.5,246.96H45.1M47.5,236.2H42.6M47.5,225.44H45.1M47.6,440.5V444.9M57.32,440.5V442.5M67.05,440.5V442.5M76.77,440.5V442.5M86.5,440.5V442.5M96.22,440.5V444.9M105.94,440.5V442.5M115.67,440.5V442.5M125.39,440.5V442.5M135.12,440.5V442.5M144.84,440.5V444.9M154.56,440.5V442.5M164.29,440.5V442.5M174.01,440.5V442.5M183.74,440.5V442.5M193.46,440.5V444.9M203.18,440.5V442.5M212.91,440.5V442.5M222.63,440.5V442.5M232.36,440.5V442.5M242.08,440.5V444.9M251.8,440.5V442.5M261.53,440.5V442.5M271.25,440.5V442.5M280.98,440.5V442.5M290.7,440.5V444.9" stroke="#111" stroke-width="1.1" fill="none"/>
<text x="39.2" y="432.78" font-size="8.4" text-anchor="end" font-family="Liberation Serif" font-weight="bold" stroke="#000" stroke-width="0.22" paint-order="stroke">75</text>
<text x="39.2" y="411.26" font-size="8.4" text-anchor="end" font-family="Liberation Serif" font-weight="bold" stroke="#000" stroke-width="0.22" paint-order="stroke">100</text>
<text x="39.2" y="389.74" font-size="8.4" text-anchor="end" font-family="Liberation Serif" font-weight="bold" stroke="#000" stroke-width="0.22" paint-order="stroke">125</text>
<text x="39.2" y="368.22" font-size="8.4" text-anchor="end" font-family="Liberation Serif" font-weight="bold" stroke="#000" stroke-width="0.22" paint-order="stroke">150</text>
<text x="39.2" y="346.7" font-size="8.4" text-anchor="end" font-family="Liberation Serif" font-weight="bold" stroke="#000" stroke-width="0.22" paint-order="stroke">175</text>
<text x="39.2" y="325.18" font-size="8.4" text-anchor="end" font-family="Liberation Serif" font-weight="bold" stroke="#000" stroke-width="0.22" paint-order="stroke">200</text>
<text x="39.2" y="303.66" font-size="8.4" text-anchor="end" font-family="Liberation Serif" font-weight="bold" stroke="#000" stroke-width="0.22" paint-order="stroke">225</text>
<text x="39.2" y="282.14" font-size="8.4" text-anchor="end" font-family="Liberation Serif" font-weight="bold" stroke="#000" stroke-width="0.22" paint-order="stroke">250</text>
<text x="39.2" y="260.62" font-size="8.4" text-anchor="end" font-family="Liberation Serif" font-weight="bold" stroke="#000" stroke-width="0.22" paint-order="stroke">275</text>
<text x="39.2" y="239.1" font-size="8.4" text-anchor="end" font-family="Liberation Serif" font-weight="bold" stroke="#000" stroke-width="0.22" paint-order="stroke">300</text>
<text x="47.6" y="456" font-size="8.6" text-anchor="middle" font-family="Liberation Serif" font-weight="bold" stroke="#000" stroke-width="0.22" paint-order="stroke">0</text>
<text x="96.22" y="456" font-size="8.6" text-anchor="middle" font-family="Liberation Serif" font-weight="bold" stroke="#000" stroke-width="0.22" paint-order="stroke">50</text>
<text x="144.84" y="456" font-size="8.6" text-anchor="middle" font-family="Liberation Serif" font-weight="bold" stroke="#000" stroke-width="0.22" paint-order="stroke">100</text>
<text x="193.46" y="456" font-size="8.6" text-anchor="middle" font-family="Liberation Serif" font-weight="bold" stroke="#000" stroke-width="0.22" paint-order="stroke">150</text>
<text x="242.08" y="456" font-size="8.6" text-anchor="middle" font-family="Liberation Serif" font-weight="bold" stroke="#000" stroke-width="0.22" paint-order="stroke">200</text>
<text x="290.7" y="456" font-size="8.6" text-anchor="middle" font-family="Liberation Serif" font-weight="bold" stroke="#000" stroke-width="0.22" paint-order="stroke">250</text>
<text transform="translate(169.5,469.3) scale(0.9,1)" font-size="11.67" text-anchor="middle" font-family="Liberation Serif" font-weight="bold" stroke="#000" stroke-width="0.22" paint-order="stroke">N<tspan font-size="7.78" dy="2">2</tspan><tspan dy="-2">O concentration (ppm)</tspan></text>
<text transform="translate(21.3,332.6) rotate(-90)" font-size="10.4" text-anchor="middle" font-family="Liberation Serif" font-weight="bold" stroke="#000" stroke-width="0.22" paint-order="stroke">Temperature (°C)</text>
<text x="2.5" y="239.3" font-size="11.6" font-family="Liberation Serif" font-weight="bold" stroke="#000" stroke-width="0.22" paint-order="stroke">(c)</text>
<rect x="214" y="372.9" width="19.6" height="9" fill="url(#lgt)"/>
<text x="236.4" y="380.5" font-size="8.5" font-family="Liberation Serif" font-weight="bold" stroke="#000" stroke-width="0.22" paint-order="stroke">MCCX-Zn-Cl</text>
<rect x="214" y="383.95" width="19.6" height="9" fill="url(#lgo)"/>
<text x="236.4" y="391.55" font-size="8.5" font-family="Liberation Serif" font-weight="bold" stroke="#000" stroke-width="0.22" paint-order="stroke">MCCX-Zn-N</text>
<rect x="214" y="395" width="19.6" height="9" fill="url(#lgs)"/>
<text x="236.4" y="402.6" font-size="8.5" font-family="Liberation Serif" font-weight="bold" stroke="#000" stroke-width="0.22" paint-order="stroke">MCCX-Zn-S</text>
<rect x="214" y="406.05" width="19.6" height="9" fill="url(#lgp)"/>
<text x="236.4" y="413.65" font-size="8.5" font-family="Liberation Serif" font-weight="bold" stroke="#000" stroke-width="0.22" paint-order="stroke">MCCX-Zn-C</text>
<rect x="214" y="417.1" width="19.6" height="9" fill="url(#lgg)"/>
<text x="236.4" y="424.7" font-size="8.5" font-family="Liberation Serif" font-weight="bold" stroke="#000" stroke-width="0.22" paint-order="stroke">MCCX</text>
<text x="303" y="231.9" font-size="5.1" font-family="Liberation Serif" fill="#222">0</text>
<text x="303" y="235.25" font-size="5.1" font-family="Liberation Serif" fill="#222">0</text>
<rect x="302.6" y="235.35" width="19.49" height="3.1" fill="url(#grs)"/>
<text x="322.49" y="238.6" font-size="5.1" font-family="Liberation Serif" fill="#222">33</text>
<text x="303" y="241.95" font-size="5.1" font-family="Liberation Serif" fill="#222">0</text>
<rect x="302.6" y="242.05" width="7.74" height="3.1" fill="url(#grt)"/>
<text x="310.74" y="245.3" font-size="5.1" font-family="Liberation Serif" fill="#222">13.1</text>
<text x="303" y="253.42" font-size="5.1" font-family="Liberation Serif" fill="#222">0</text>
<rect x="302.6" y="253.52" width="11.22" height="3.1" fill="url(#grp)"/>
<text x="314.22" y="256.77" font-size="5.1" font-family="Liberation Serif" fill="#222">19</text>
<rect x="302.6" y="256.87" width="44.88" height="3.1" fill="url(#grs)"/>
<text x="347.88" y="260.12" font-size="5.1" font-family="Liberation Serif" fill="#222">76</text>
<rect x="302.6" y="260.22" width="5.91" height="3.1" fill="url(#gro)"/>
<text x="308.9" y="263.47" font-size="5.1" font-family="Liberation Serif" fill="#222">10</text>
<rect x="302.6" y="263.57" width="24.92" height="3.1" fill="url(#grt)"/>
<text x="327.92" y="266.82" font-size="5.1" font-family="Liberation Serif" fill="#222">42.2</text>
<text x="303" y="274.94" font-size="5.1" font-family="Liberation Serif" fill="#222">0</text>
<rect x="302.6" y="275.04" width="23.62" height="3.1" fill="url(#grp)"/>
<text x="326.62" y="278.29" font-size="5.1" font-family="Liberation Serif" fill="#222">40</text>
<rect x="302.6" y="278.39" width="83.85" height="3.1" fill="url(#grs)"/>
<text x="386.85" y="281.64" font-size="5.1" font-family="Liberation Serif" fill="#222">142</text>
<rect x="302.6" y="281.74" width="14.76" height="3.1" fill="url(#gro)"/>
<text x="317.76" y="284.99" font-size="5.1" font-family="Liberation Serif" fill="#222">25</text>
<rect x="302.6" y="285.09" width="69.68" height="3.1" fill="url(#grt)"/>
<text x="372.68" y="288.34" font-size="5.1" font-family="Liberation Serif" fill="#222">118</text>
<rect x="302.6" y="293.21" width="6.61" height="3.1" fill="url(#grg)"/>
<text x="309.61" y="296.46" font-size="5.1" font-family="Liberation Serif" fill="#222">11.2</text>
<rect x="302.6" y="296.56" width="24.21" height="3.1" fill="url(#grp)"/>
<text x="327.21" y="299.81" font-size="5.1" font-family="Liberation Serif" fill="#222">41</text>
<rect x="302.6" y="299.91" width="125.19" height="3.1" fill="url(#grs)"/>
<text x="428.19" y="303.16" font-size="5.1" font-family="Liberation Serif" fill="#222">212</text>
<rect x="302.6" y="303.26" width="35.43" height="3.1" fill="url(#gro)"/>
<text x="338.43" y="306.51" font-size="5.1" font-family="Liberation Serif" fill="#222">60</text>
<rect x="302.6" y="306.61" width="61.41" height="3.1" fill="url(#grt)"/>
<text x="364.41" y="309.86" font-size="5.1" font-family="Liberation Serif" fill="#222">104</text>
<rect x="302.6" y="314.73" width="37.2" height="3.1" fill="url(#grg)"/>
<text x="340.2" y="317.98" font-size="5.1" font-family="Liberation Serif" fill="#222">63</text>
<rect x="302.6" y="318.08" width="59.05" height="3.1" fill="url(#grp)"/>
<text x="362.05" y="321.33" font-size="5.1" font-family="Liberation Serif" fill="#222">100</text>
<rect x="302.6" y="321.43" width="164.16" height="3.1" fill="url(#grs)"/>
<text x="467.16" y="324.68" font-size="5.1" font-family="Liberation Serif" fill="#222">278</text>
<rect x="302.6" y="324.78" width="38.38" height="3.1" fill="url(#gro)"/>
<text x="341.38" y="328.03" font-size="5.1" font-family="Liberation Serif" fill="#222">65</text>
<rect x="302.6" y="328.13" width="59.05" height="3.1" fill="url(#grt)"/>
<text x="362.05" y="331.38" font-size="5.1" font-family="Liberation Serif" fill="#222">100</text>
<rect x="302.6" y="336.25" width="59.05" height="3.1" fill="url(#grg)"/>
<text x="362.05" y="339.5" font-size="5.1" font-family="Liberation Serif" fill="#222">100</text>
<rect x="302.6" y="339.6" width="79.13" height="3.1" fill="url(#grp)"/>
<text x="382.13" y="342.85" font-size="5.1" font-family="Liberation Serif" fill="#222">134</text>
<rect x="302.6" y="342.95" width="194.87" height="3.1" fill="url(#grs)"/>
<text x="497.87" y="346.2" font-size="5.1" font-family="Liberation Serif" fill="#222">330</text>
<rect x="302.6" y="346.3" width="59.05" height="3.1" fill="url(#gro)"/>
<text x="362.05" y="349.55" font-size="5.1" font-family="Liberation Serif" fill="#222">100</text>
<rect x="302.6" y="349.65" width="55.51" height="3.1" fill="url(#grt)"/>
<text x="358.51" y="352.9" font-size="5.1" font-family="Liberation Serif" fill="#222">94</text>
<rect x="302.6" y="357.77" width="40.15" height="3.1" fill="url(#grg)"/>
<text x="343.15" y="361.02" font-size="5.1" font-family="Liberation Serif" fill="#222">68</text>
<rect x="302.6" y="361.12" width="101.57" height="3.1" fill="url(#grp)"/>
<text x="404.57" y="364.37" font-size="5.1" font-family="Liberation Serif" fill="#222">172</text>
<rect x="302.6" y="364.47" width="222.62" height="3.1" fill="url(#grs)"/>
<text x="525.62" y="367.72" font-size="5.1" font-family="Liberation Serif" fill="#222">377</text>
<rect x="302.6" y="367.82" width="60.82" height="3.1" fill="url(#gro)"/>
<text x="363.82" y="371.07" font-size="5.1" font-family="Liberation Serif" fill="#222">103</text>
<rect x="302.6" y="371.17" width="54.92" height="3.1" fill="url(#grt)"/>
<text x="357.92" y="374.42" font-size="5.1" font-family="Liberation Serif" fill="#222">93</text>
<rect x="302.6" y="379.29" width="21.32" height="3.1" fill="url(#grg)"/>
<text x="324.32" y="382.54" font-size="5.1" font-family="Liberation Serif" fill="#222">36.1</text>
<rect x="302.6" y="382.64" width="98.61" height="3.1" fill="url(#grp)"/>
<text x="401.61" y="385.89" font-size="5.1" font-family="Liberation Serif" fill="#222">167</text>
<rect x="302.6" y="385.99" width="193.68" height="3.1" fill="url(#grs)"/>
<text x="496.68" y="389.24" font-size="5.1" font-family="Liberation Serif" fill="#222">328</text>
<rect x="302.6" y="389.34" width="64.95" height="3.1" fill="url(#gro)"/>
<text x="367.95" y="392.59" font-size="5.1" font-family="Liberation Serif" fill="#222">110</text>
<rect x="302.6" y="392.69" width="89.76" height="3.1" fill="url(#grt)"/>
<text x="392.76" y="395.94" font-size="5.1" font-family="Liberation Serif" fill="#222">152</text>
<text x="303" y="404.06" font-size="5.1" font-family="Liberation Serif" fill="#222">0</text>
<text x="303" y="407.41" font-size="5.1" font-family="Liberation Serif" fill="#222">0</text>
<rect x="302.6" y="407.51" width="74.99" height="3.1" fill="url(#grs)"/>
<text x="377.99" y="410.76" font-size="5.1" font-family="Liberation Serif" fill="#222">127</text>
<rect x="302.6" y="410.86" width="20.67" height="3.1" fill="url(#gro)"/>
<text x="323.67" y="414.11" font-size="5.1" font-family="Liberation Serif" fill="#222">35</text>
<text x="303" y="417.46" font-size="5.1" font-family="Liberation Serif" fill="#222">0</text>
<text x="303" y="425.58" font-size="5.1" font-family="Liberation Serif" fill="#222">0</text>
<text x="303" y="428.93" font-size="5.1" font-family="Liberation Serif" fill="#222">0</text>
<text x="303" y="432.28" font-size="5.1" font-family="Liberation Serif" fill="#222">0</text>
<text x="303" y="435.63" font-size="5.1" font-family="Liberation Serif" fill="#222">0</text>
<text x="303" y="438.98" font-size="5.1" font-family="Liberation Serif" fill="#222">0</text>
<rect x="302.4" y="226.0" width="243" height="215.6" fill="none" stroke="#111" stroke-width="1.2"/>
<path d="M302.6,441.6V446M308.5,441.6V443.6M314.41,441.6V443.6M320.31,441.6V443.6M326.22,441.6V443.6M332.12,441.6V446M338.03,441.6V443.6M343.94,441.6V443.6M349.84,441.6V443.6M355.75,441.6V443.6M361.65,441.6V446M367.56,441.6V443.6M373.46,441.6V443.6M379.37,441.6V443.6M385.27,441.6V443.6M391.18,441.6V446M397.08,441.6V443.6M402.99,441.6V443.6M408.89,441.6V443.6M414.8,441.6V443.6M420.7,441.6V446M426.61,441.6V443.6M432.51,441.6V443.6M438.42,441.6V443.6M444.32,441.6V443.6M450.23,441.6V446M456.13,441.6V443.6M462.04,441.6V443.6M467.94,441.6V443.6M473.85,441.6V443.6M479.75,441.6V446M485.66,441.6V443.6M491.56,441.6V443.6M497.47,441.6V443.6M503.37,441.6V443.6M509.28,441.6V446M515.18,441.6V443.6M521.09,441.6V443.6M526.99,441.6V443.6M532.89,441.6V443.6M538.8,441.6V446M544.71,441.6V443.6" stroke="#111" stroke-width="1.1" fill="none"/>
<text x="302.6" y="456.8" font-size="8.6" text-anchor="middle" font-family="Liberation Serif" font-weight="bold" stroke="#000" stroke-width="0.22" paint-order="stroke">0</text>
<text x="332.12" y="456.8" font-size="8.6" text-anchor="middle" font-family="Liberation Serif" font-weight="bold" stroke="#000" stroke-width="0.22" paint-order="stroke">50</text>
<text x="361.65" y="456.8" font-size="8.6" text-anchor="middle" font-family="Liberation Serif" font-weight="bold" stroke="#000" stroke-width="0.22" paint-order="stroke">100</text>
<text x="391.18" y="456.8" font-size="8.6" text-anchor="middle" font-family="Liberation Serif" font-weight="bold" stroke="#000" stroke-width="0.22" paint-order="stroke">150</text>
<text x="420.7" y="456.8" font-size="8.6" text-anchor="middle" font-family="Liberation Serif" font-weight="bold" stroke="#000" stroke-width="0.22" paint-order="stroke">200</text>
<text x="450.23" y="456.8" font-size="8.6" text-anchor="middle" font-family="Liberation Serif" font-weight="bold" stroke="#000" stroke-width="0.22" paint-order="stroke">250</text>
<text x="479.75" y="456.8" font-size="8.6" text-anchor="middle" font-family="Liberation Serif" font-weight="bold" stroke="#000" stroke-width="0.22" paint-order="stroke">300</text>
<text x="509.28" y="456.8" font-size="8.6" text-anchor="middle" font-family="Liberation Serif" font-weight="bold" stroke="#000" stroke-width="0.22" paint-order="stroke">350</text>
<text x="538.8" y="456.8" font-size="8.6" text-anchor="middle" font-family="Liberation Serif" font-weight="bold" stroke="#000" stroke-width="0.22" paint-order="stroke">400</text>
<text transform="translate(423.8,470.4) scale(0.9,1)" font-size="11.67" text-anchor="middle" font-family="Liberation Serif" font-weight="bold" stroke="#000" stroke-width="0.22" paint-order="stroke">NH<tspan font-size="7.78" dy="2">3</tspan><tspan dy="-2"> concentration (ppm)</tspan></text></svg>
</body></html>
